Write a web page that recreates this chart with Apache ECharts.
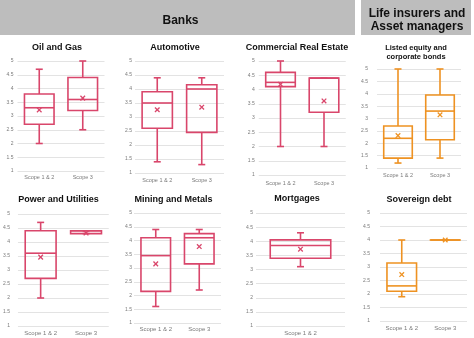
<!DOCTYPE html>
<html>
<head>
<meta charset="utf-8">
<script src="https://cdn.jsdelivr.net/npm/echarts@6/dist/echarts.min.js"></script>
<style>
html,body{margin:0;padding:0;background:#fff;}
#chart{width:474px;height:338px;}
</style>
</head>
<body>
<div id="chart"></div>
<script>
// ---------- DATA ----------
const scopes = ['Scope 1 & 2', 'Scope 3'];
const yTicks = [1, 1.5, 2, 2.5, 3, 3.5, 4, 4.5, 5];

const panelTitles = ['Oil and Gas', 'Automotive', 'Commercial Real Estate', 'Listed equity and\ncorporate bonds',
                     'Power and Utilities', 'Mining and Metals', 'Mortgages', 'Sovereign debt'];
const headerBanks = 'Banks';
const headerLife = 'Life insurers and\nAsset managers';

// [min, Q1, median, Q3, max] per scope
const oilGasBox      = [[2.0, 2.7, 3.3, 3.8, 4.7], [2.5, 3.2, 3.6, 4.4, 5.0]];
const oilGasMean     = [3.22, 3.65];
const automotiveBox  = [[1.4, 2.6, 3.5, 3.9, 4.4], [1.3, 2.45, 4.0, 4.15, 4.4]];
const automotiveMean = [3.26, 3.35];
const creBox         = [[2.0, 4.1, 4.25, 4.6, 5.0], [2.0, 3.2, 4.4, 4.4, 4.4]];
const creMean        = [4.18, 3.6];
const listedBox      = [[1.2, 1.4, 2.2, 2.7, 5.0], [1.4, 2.14, 3.3, 3.95, 5.0]];
const listedMean     = [2.31, 3.15];
const powerBox       = [[2.0, 2.7, 3.6, 4.4, 4.7], [4.3, 4.3, 4.4, 4.4, 4.4]];
const powerMean      = [3.46, 4.32];
const miningBox      = [[1.6, 2.15, 3.45, 4.1, 4.4], [2.2, 3.15, 4.1, 4.25, 4.4]];
const miningMean     = [3.15, 3.78];
const mortgagesBox   = [[3.1, 3.4, 3.85, 4.05, 4.3]];
const mortgagesMean  = [3.72];
const sovereignBox   = [[1.9, 2.1, 2.3, 3.15, 4.0], [4.0, 4.0, 4.0, 4.0, 4.0]];
const sovereignMean  = [2.72, 4.0];

// ---------- LAYOUT / STYLE ----------
const RED = '#d9466b';
const ORANGE = '#ee9222';
const panels = [
  {box: oilGasBox, mean: oilGasMean, color: RED, grid: {left: 17.5, top: 61, width: 87, height: 110}, ym: 4, xm: 3, xf: 5.5, title: [57, 48]},
  {box: automotiveBox, mean: automotiveMean, color: RED, grid: {left: 135, top: 61, width: 89, height: 112}, ym: 3, xm: 4, xf: 5.5, title: [175, 48]},
  {box: creBox, mean: creMean, color: RED, grid: {left: 258.75, top: 61, width: 87, height: 114}, ym: 4, xm: 5, xf: 5.5, title: [297, 48]},
  {box: listedBox, mean: listedMean, color: ORANGE, grid: {left: 377, top: 69, width: 84, height: 99}, ym: 9, xm: 4, xf: 5.5, title: [416, 52.5], small: true},
  {box: powerBox, mean: powerMean, color: RED, grid: {left: 17.75, top: 214, width: 91, height: 112}, ym: 8, xm: 4, xf: 6, title: [58.5, 200]},
  {box: miningBox, mean: miningMean, color: RED, grid: {left: 134, top: 213, width: 87, height: 110}, ym: 2, xm: 3, xf: 6, title: [173.5, 200]},
  {box: mortgagesBox, mean: mortgagesMean, color: RED, grid: {left: 256, top: 213, width: 89, height: 113}, ym: 3, xm: 4, xf: 6, title: [297, 199]},
  {box: sovereignBox, mean: sovereignMean, color: ORANGE, grid: {left: 380, top: 213, width: 87, height: 108}, ym: 10, xm: 4, xf: 6, title: [419, 200]}
];

const FONT = '"Liberation Sans", Arial, sans-serif';

function makeRender(color) {
  return function (params, api) {
    const i = api.value(0);
    const p = k => api.coord([i, api.value(k)]);
    const pMin = p(1), pQ1 = p(2), pMed = p(3), pQ3 = p(4), pMax = p(5), pMean = p(6);
    const cx = pMin[0];
    const bw = api.size([1, 0])[0] * 0.68;
    const cap = 3.5, mk = 2.3;
    const ls = {stroke: color, lineWidth: 1.6, fill: null};
    const line = (x1, y1, x2, y2, w) => ({type: 'line', shape: {x1, y1, x2, y2}, style: Object.assign({}, ls, w ? {lineWidth: w} : {})});
    return {
      type: 'group',
      children: [
        line(cx, pMin[1], cx, pQ1[1]),
        line(cx - cap, pMin[1], cx + cap, pMin[1]),
        line(cx, pQ3[1], cx, pMax[1]),
        line(cx - cap, pMax[1], cx + cap, pMax[1]),
        {type: 'rect', shape: {x: cx - bw / 2, y: pQ3[1], width: bw, height: Math.max(pQ1[1] - pQ3[1], 0.01)}, style: Object.assign({}, ls, {fill: 'rgba(255,255,255,0)'})},
        line(cx - bw / 2, pMed[1], cx + bw / 2, pMed[1]),
        line(cx - mk, pMean[1] - mk, cx + mk, pMean[1] + mk, 1.3),
        line(cx - mk, pMean[1] + mk, cx + mk, pMean[1] - mk, 1.3)
      ]
    };
  };
}

const grids = [], xAxes = [], yAxes = [], series = [];
panels.forEach((pn, k) => {
  grids.push(Object.assign({containLabel: false}, pn.grid));
  const cats = scopes.slice(0, pn.box.length);
  xAxes.push({
    type: 'category', gridIndex: k, data: cats,
    axisLine: {show: false}, axisTick: {show: false},
    axisLabel: {color: '#7a7a7a', fontSize: pn.xf, fontFamily: FONT, margin: pn.xm, interval: 0}
  });
  yAxes.push({
    type: 'value', gridIndex: k, min: yTicks[0], max: yTicks[yTicks.length - 1], interval: yTicks[1] - yTicks[0],
    axisLine: {show: false}, axisTick: {show: false},
    axisLabel: {color: '#7a7a7a', fontSize: 5, fontFamily: FONT, margin: pn.ym},
    splitLine: {lineStyle: {color: '#e3e3e3', width: 1}}
  });
  series.push({
    type: 'custom', xAxisIndex: k, yAxisIndex: k,
    renderItem: makeRender(pn.color),
    encode: {x: 0, y: [1, 2, 3, 4, 5, 6]},
    data: pn.box.map((b, i) => [i].concat(b, [pn.mean[i]])),
    silent: true
  });
});

const graphics = [
  {type: 'rect', shape: {x: 0, y: 0, width: 355, height: 35}, style: {fill: '#bdbdbd'}, silent: true},
  {type: 'rect', shape: {x: 361, y: 0, width: 110, height: 35}, style: {fill: '#bdbdbd'}, silent: true},
  {type: 'text', x: 180.5, y: 21, style: {text: headerBanks, font: 'bold 12px ' + FONT, fill: '#111', textAlign: 'center', textVerticalAlign: 'middle', align: 'center', verticalAlign: 'middle'}},
  {type: 'text', x: 417, y: 20.5, style: {text: headerLife, font: 'bold 12px ' + FONT, fill: '#111', lineHeight: 13, textAlign: 'center', textVerticalAlign: 'middle', align: 'center', verticalAlign: 'middle'}}
];
panels.forEach((pn, k) => {
  graphics.push({type: 'text', x: pn.title[0], y: pn.title[1], style: {
    text: panelTitles[k], font: 'bold ' + (pn.small ? 7.5 : 9) + 'px ' + FONT, fill: '#111',
    lineHeight: pn.small ? 9 : 11,
    textAlign: 'center', textVerticalAlign: 'middle', align: 'center', verticalAlign: 'middle'}});
});

const chart = echarts.init(document.getElementById('chart'), null, {renderer: 'canvas'});
chart.setOption({
  animation: false,
  backgroundColor: '#ffffff',
  grid: grids, xAxis: xAxes, yAxis: yAxes, series: series,
  graphic: graphics
});
</script>
</body>
</html>
